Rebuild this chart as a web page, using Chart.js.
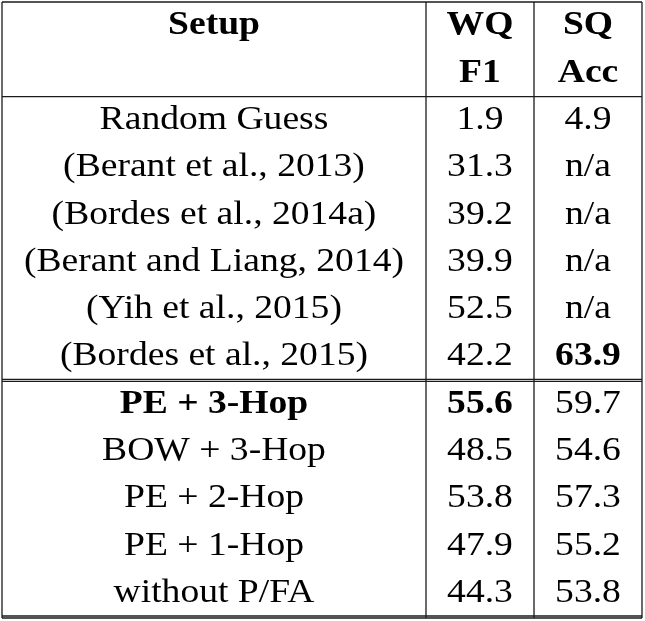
<!DOCTYPE html>
<html>
<head>
<meta charset="utf-8">
<script src="https://cdn.jsdelivr.net/npm/chart.js@4.4.1/dist/chart.umd.min.js"></script>
<style>
  html, body { margin: 0; padding: 0; background: #fff; }
  #wrap { width: 645px; height: 621px; }
</style>
</head>
<body>
<div id="wrap"><canvas id="tableChart"></canvas></div>
<script>
// Table contents
const headers = [['Setup'], ['WQ', 'F1'], ['SQ', 'Acc']];
const setups = [
  'Random Guess',
  '(Berant et al., 2013)',
  '(Bordes et al., 2014a)',
  '(Berant and Liang, 2014)',
  '(Yih et al., 2015)',
  '(Bordes et al., 2015)',
  'PE + 3-Hop',
  'BOW + 3-Hop',
  'PE + 2-Hop',
  'PE + 1-Hop',
  'without P/FA'
];
const wqF1 = [1.9, 31.3, 39.2, 39.9, 52.5, 42.2, 55.6, 48.5, 53.8, 47.9, 44.3];
const sqAcc = [4.9, null, null, null, null, 63.9, 59.7, 54.6, 57.3, 55.2, 53.8];
const boldSetups = ['PE + 3-Hop'];

// Layout of the grid (in scale units)
const colEdges = [0, 424, 532, 640];
const headerRows = 2;
const splitAfter = 6;          // double rule after the baselines
const totalRows = headerRows + setups.length;
const fontSize = 34.5;
const stretchX = 1.09;         // the source typeface is a bit wider than tall

const colCenter = i => (colEdges[i] + colEdges[i + 1]) / 2;
const fmt = v => (v === null ? 'n/a' : v.toFixed(1));

// Build one dataset per column; each point carries its cell text
function columnData(colIdx, values, boldTest) {
  const pts = headers[colIdx].map((t, j) => ({ x: colCenter(colIdx), y: j + 0.5, text: t, bold: true }));
  values.forEach((v, i) => {
    pts.push({ x: colCenter(colIdx), y: headerRows + i + 0.5, text: v.text, bold: boldTest(v, i) });
  });
  return pts;
}

const wqMax = Math.max(...wqF1.filter(v => v !== null));
const sqMax = Math.max(...sqAcc.filter(v => v !== null));

const datasets = [
  columnData(0, setups.map(s => ({ text: s })), v => boldSetups.includes(v.text)),
  columnData(1, wqF1.map(v => ({ text: fmt(v), raw: v })), v => v.raw === wqMax),
  columnData(2, sqAcc.map(v => ({ text: fmt(v), raw: v })), v => v.raw === sqMax)
].map(d => ({ data: d, pointRadius: 0, showLine: false }));

// Draws rules and cell texts at the positions given by the scales
const tablePlugin = {
  id: 'tablePlugin',
  afterDatasetsDraw(chart) {
    const { ctx, scales: { x, y } } = chart;
    const top = y.getPixelForValue(0);
    const bottom = y.getPixelForValue(totalRows);
    ctx.save();
    ctx.strokeStyle = '#1a1a1a';
    ctx.lineWidth = 1.3;

    // vertical rules
    colEdges.forEach(e => {
      const px = x.getPixelForValue(e);
      ctx.beginPath();
      ctx.moveTo(px, top);
      ctx.lineTo(px, bottom + 1);
      ctx.stroke();
    });

    // horizontal rules
    const left = x.getPixelForValue(colEdges[0]);
    const right = x.getPixelForValue(colEdges[colEdges.length - 1]);
    const hline = py => {
      ctx.beginPath();
      ctx.moveTo(left, py);
      ctx.lineTo(right, py);
      ctx.stroke();
    };
    hline(top);
    hline(y.getPixelForValue(headerRows));
    const split = y.getPixelForValue(headerRows + splitAfter);
    hline(split - 1);
    hline(split + 1);
    hline(bottom - 1);
    hline(bottom + 1);

    // cell texts
    ctx.fillStyle = '#000';
    ctx.textAlign = 'center';
    ctx.textBaseline = 'alphabetic';
    chart.data.datasets.forEach((ds, di) => {
      const meta = chart.getDatasetMeta(di);
      meta.data.forEach((el, i) => {
        const cell = ds.data[i];
        ctx.save();
        ctx.translate(el.x, el.y + fontSize * 0.25);
        ctx.scale(stretchX, 1);
        ctx.font = (cell.bold ? 'bold ' : '') + fontSize + 'px "Liberation Serif", "Times New Roman", serif';
        ctx.fillText(cell.text, 0, 0);
        ctx.restore();
      });
    });
    ctx.restore();
  }
};

new Chart(document.getElementById('tableChart').getContext('2d'), {
  type: 'scatter',
  data: { datasets: datasets },
  options: {
    responsive: true,
    maintainAspectRatio: false,
    animation: false,
    layout: { padding: { left: 2, right: 3, top: 2, bottom: 4 } },
    plugins: { legend: { display: false }, tooltip: { enabled: false } },
    scales: {
      x: { type: 'linear', min: colEdges[0], max: colEdges[colEdges.length - 1], display: false },
      y: { type: 'linear', min: 0, max: totalRows, reverse: true, display: false }
    }
  },
  plugins: [tablePlugin]
});
</script>
</body>
</html>
